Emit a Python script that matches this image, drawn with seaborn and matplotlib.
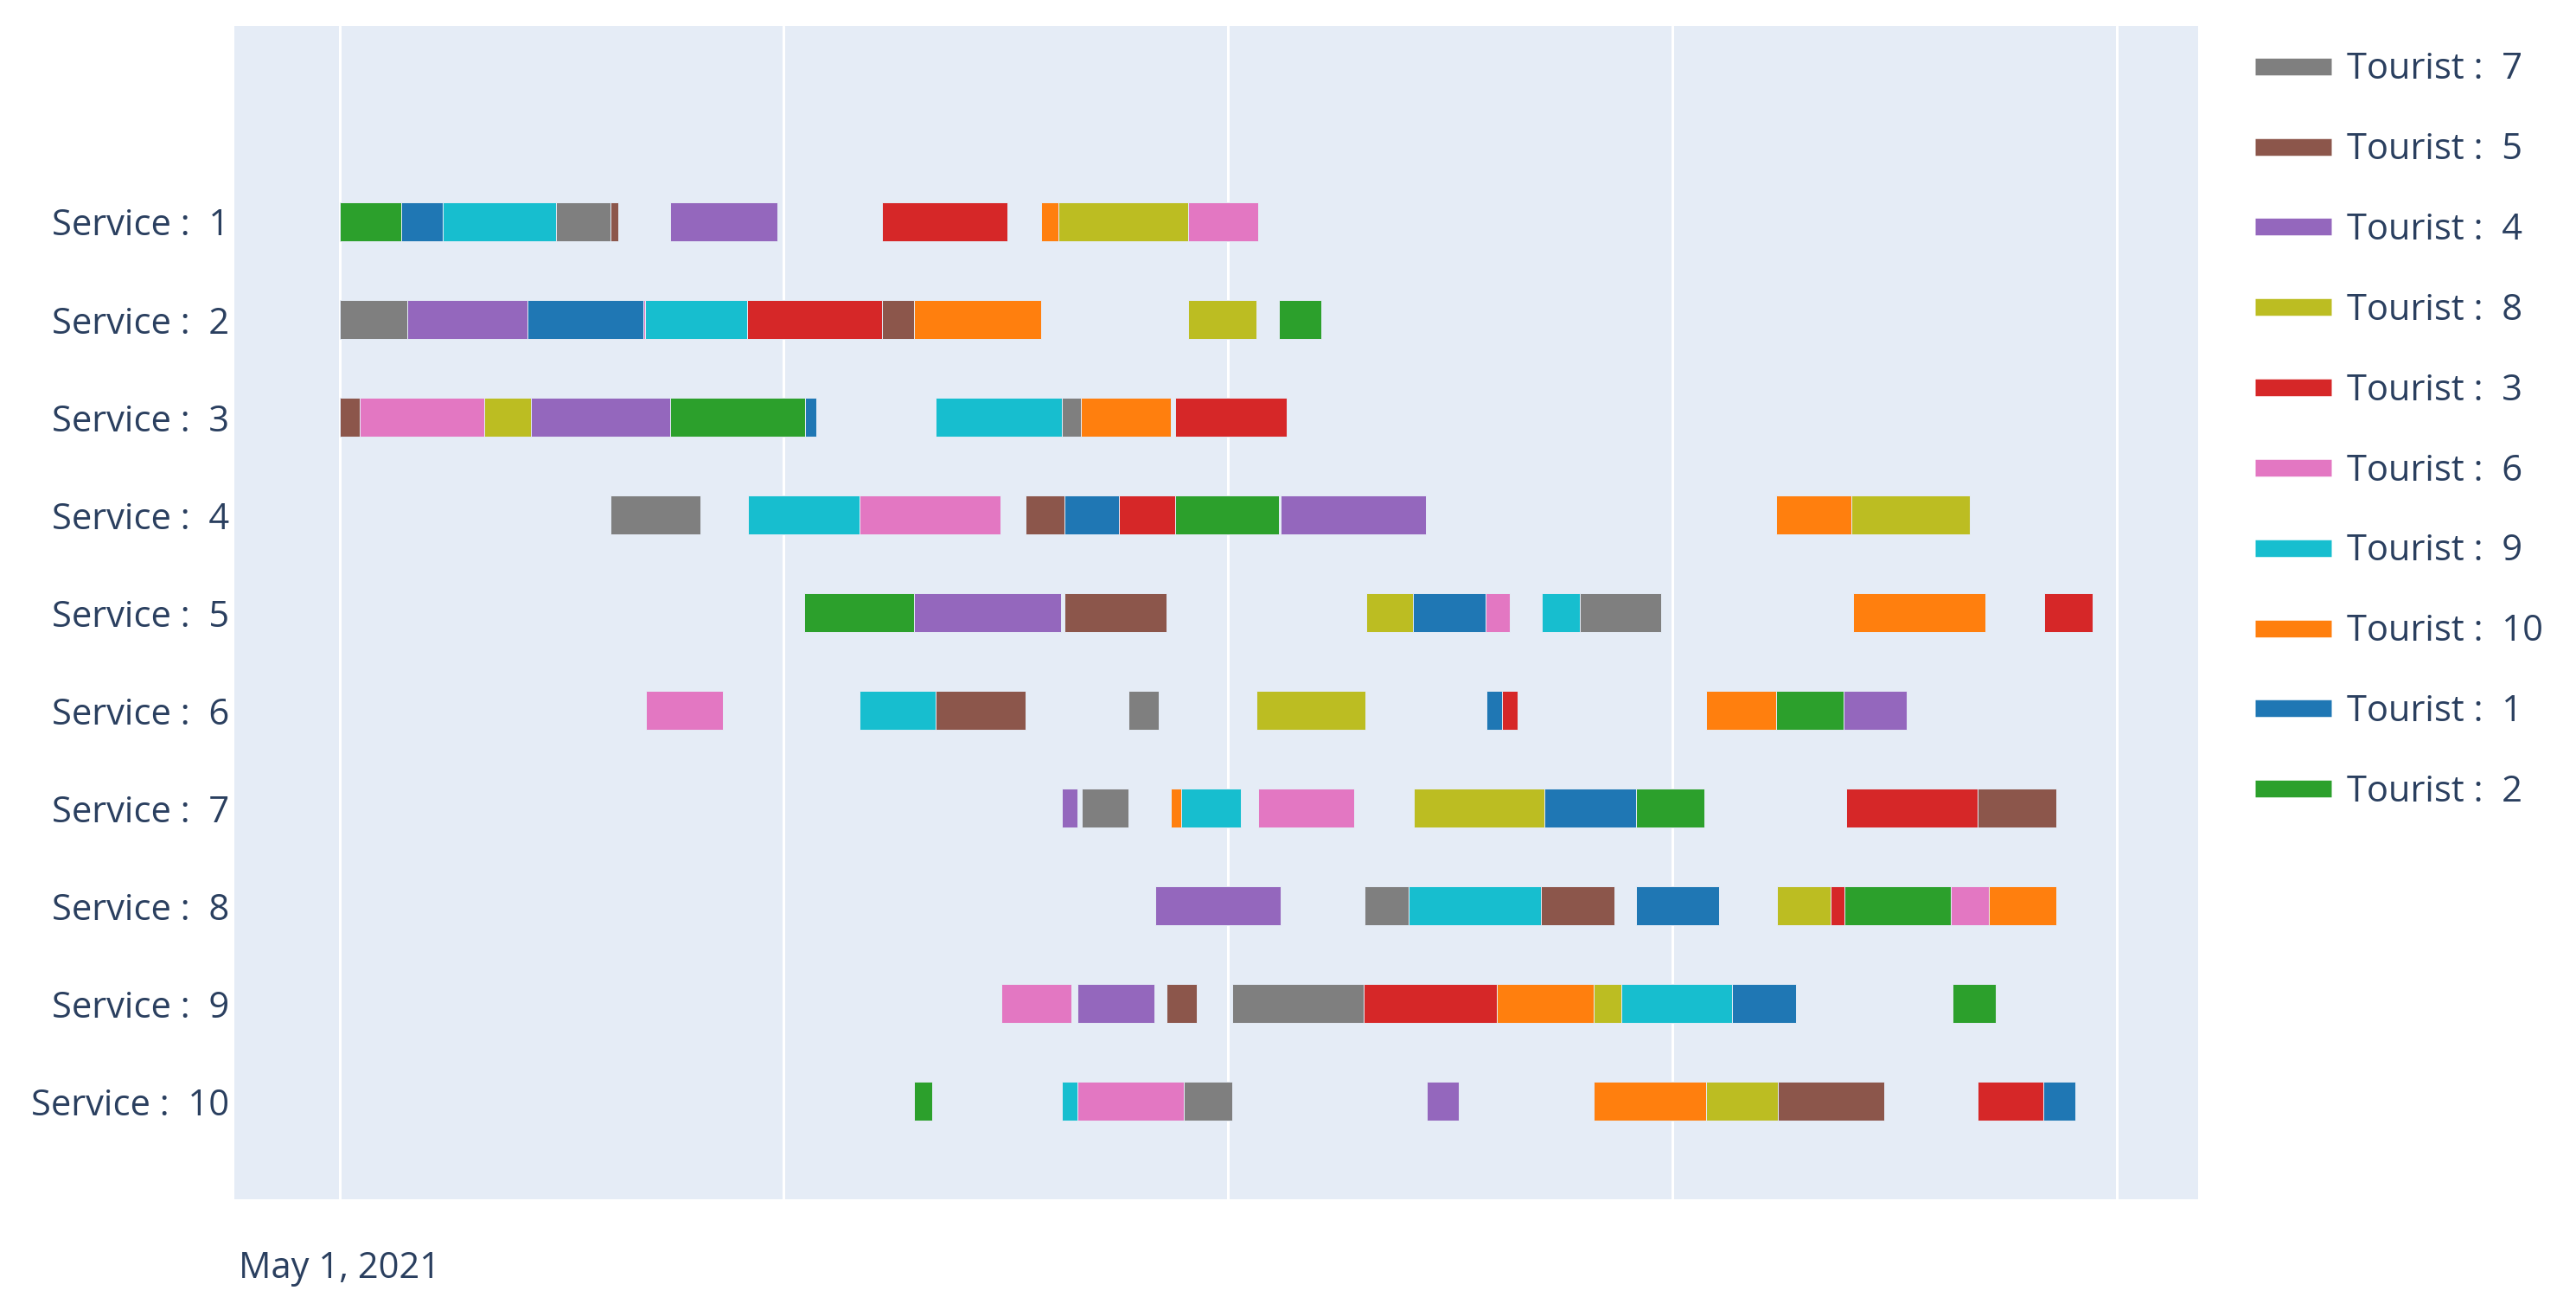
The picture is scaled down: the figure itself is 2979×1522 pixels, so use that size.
import matplotlib
matplotlib.use("Agg")
import matplotlib.pyplot as plt
from matplotlib.lines import Line2D
import pandas as pd
import seaborn as sns

# Categories
services = [f"Service :  {i}" for i in range(1, 11)]
tourist_order = [7, 5, 4, 8, 3, 6, 9, 10, 1, 2]
tourist_colors = ["#7f7f7f", "#8c564b", "#9467bd", "#bcbd22", "#d62728",
                  "#e377c2", "#17becf", "#ff7f0e", "#1f77b4", "#2ca02c"]

# Tick positions (time, in grid steps from May 1, 2021 00:00)
x_ticks = [0, 1, 2, 3, 4]
x_tick_labels = ["May 1, 2021", "", "", "", ""]

# Segments: which tourist is served, per service, with start/finish time
seg_tourist = [
    2, 1, 9, 7, 5, 4, 3, 10, 8, 6,     # service 1
    7, 4, 1, 6, 9, 3, 5, 10, 8, 2,     # service 2
    5, 6, 8, 4, 2, 1, 9, 7, 10, 3,     # service 3
    7, 9, 6, 5, 1, 3, 2, 4, 10, 8,     # service 4
    2, 4, 5, 8, 1, 6, 9, 7, 10, 3,     # service 5
    6, 9, 5, 7, 8, 1, 3, 10, 2, 4,     # service 6
    4, 7, 10, 9, 6, 8, 1, 2, 3, 5,     # service 7
    4, 7, 9, 5, 1, 8, 3, 2, 6, 10,     # service 8
    6, 4, 5, 7, 3, 10, 8, 9, 1, 2,     # service 9
    2, 9, 6, 7, 4, 10, 8, 5, 3, 1,     # service 10
]
seg_start = [
    0.000, 0.139, 0.232, 0.487, 0.610, 0.745, 1.222, 1.580, 1.618, 1.910,
    0.000, 0.153, 0.423, 0.683, 0.688, 0.918, 1.222, 1.293, 1.910, 2.115,
    0.000, 0.045, 0.325, 0.430, 0.745, 1.048, 1.342, 1.626, 1.668, 1.881,
    0.610, 0.919, 1.171, 1.545, 1.631, 1.754, 1.880, 2.119, 3.233, 3.403,
    1.046, 1.293, 1.631, 2.310, 2.416, 2.580, 2.706, 2.791, 3.406, 3.836,
    0.689, 1.171, 1.342, 1.776, 2.063, 2.581, 2.616, 3.076, 3.233, 3.385,
    1.625, 1.670, 1.872, 1.895, 2.067, 2.418, 2.712, 2.918, 3.390, 3.687,
    1.837, 2.307, 2.406, 2.704, 2.918, 3.236, 3.355, 3.388, 3.627, 3.713,
    1.490, 1.661, 1.861, 2.010, 2.306, 2.604, 2.822, 2.885, 3.134, 3.630,
    1.294, 1.625, 1.661, 1.901, 2.448, 2.822, 3.076, 3.237, 3.687, 3.834,
]
seg_finish = [
    0.139, 0.232, 0.487, 0.610, 0.628, 0.986, 1.504, 1.618, 1.910, 2.067,
    0.153, 0.423, 0.683, 0.688, 0.918, 1.222, 1.293, 1.580, 2.064, 2.209,
    0.045, 0.325, 0.430, 0.745, 1.048, 1.074, 1.626, 1.668, 1.872, 2.131,
    0.812, 1.171, 1.488, 1.631, 1.754, 1.880, 2.115, 2.446, 3.403, 3.669,
    1.293, 1.623, 1.861, 2.416, 2.580, 2.633, 2.791, 2.975, 3.704, 3.945,
    0.863, 1.342, 1.544, 1.844, 2.309, 2.616, 2.651, 3.233, 3.385, 3.528,
    1.660, 1.775, 1.895, 2.028, 2.284, 2.712, 2.918, 3.072, 3.687, 3.863,
    2.119, 2.406, 2.704, 2.869, 3.104, 3.355, 3.388, 3.627, 3.713, 3.863,
    1.648, 1.835, 1.930, 2.306, 2.604, 2.822, 2.885, 3.134, 3.278, 3.728,
    1.334, 1.661, 1.901, 2.010, 2.519, 3.076, 3.237, 3.476, 3.834, 3.906,
]

df = pd.DataFrame({
    "service": [s for s in services for _ in range(10)],
    "tourist": seg_tourist,
    "start": seg_start,
    "finish": seg_finish,
})
df["row"] = df["service"].map({s: i for i, s in enumerate(services)})
palette = dict(zip(tourist_order, tourist_colors))
df["color"] = df["tourist"].map(palette)

# Settings
sns.set_theme(style="darkgrid", rc={
    "axes.facecolor": "#E5ECF6",
    "grid.color": "white",
    "grid.linewidth": 2.2,
})
plt.rcParams["font.family"] = ["Open Sans", "DejaVu Sans"]
text_color = "#2a3f5f"

fig = plt.figure(figsize=(29.79, 15.22), dpi=100)
ax = fig.add_axes([0.0910, 0.0889, 0.8533 - 0.0910, 0.980 - 0.0889])

ax.barh(df["row"], df["finish"] - df["start"], left=df["start"], height=0.4,
        color=df["color"], edgecolor="#E5ECF6", linewidth=0.7)

ax.set_xlim(-0.2364, 4.183)
ax.set_ylim(10.0, -2.0)
ax.set_yticks(range(len(services)))
ax.set_yticklabels(services)
ax.set_xticks(x_ticks)
ax.set_xticklabels(x_tick_labels)
ax.grid(False, axis="y")
ax.grid(True, axis="x")
ax.tick_params(axis="y", length=0, pad=4, labelsize=30, labelcolor=text_color)
ax.tick_params(axis="x", length=0, pad=43, labelsize=30, labelcolor=text_color)
for s in ax.spines.values():
    s.set_visible(False)
ax.set_xlabel("")
ax.set_ylabel("")

handles = [Line2D([0], [0], color=c, lw=14, solid_capstyle="butt") for c in tourist_colors]
labels = [f"Tourist :  {t}" for t in tourist_order]
fig.legend(handles, labels, loc="upper left", bbox_to_anchor=(0.8755, 0.961),
           frameon=False, fontsize=30, labelcolor=text_color,
           handlelength=2.1, handletextpad=0.45, labelspacing=1.22,
           borderpad=0, borderaxespad=0)

fig.savefig("out.png", dpi=100)
